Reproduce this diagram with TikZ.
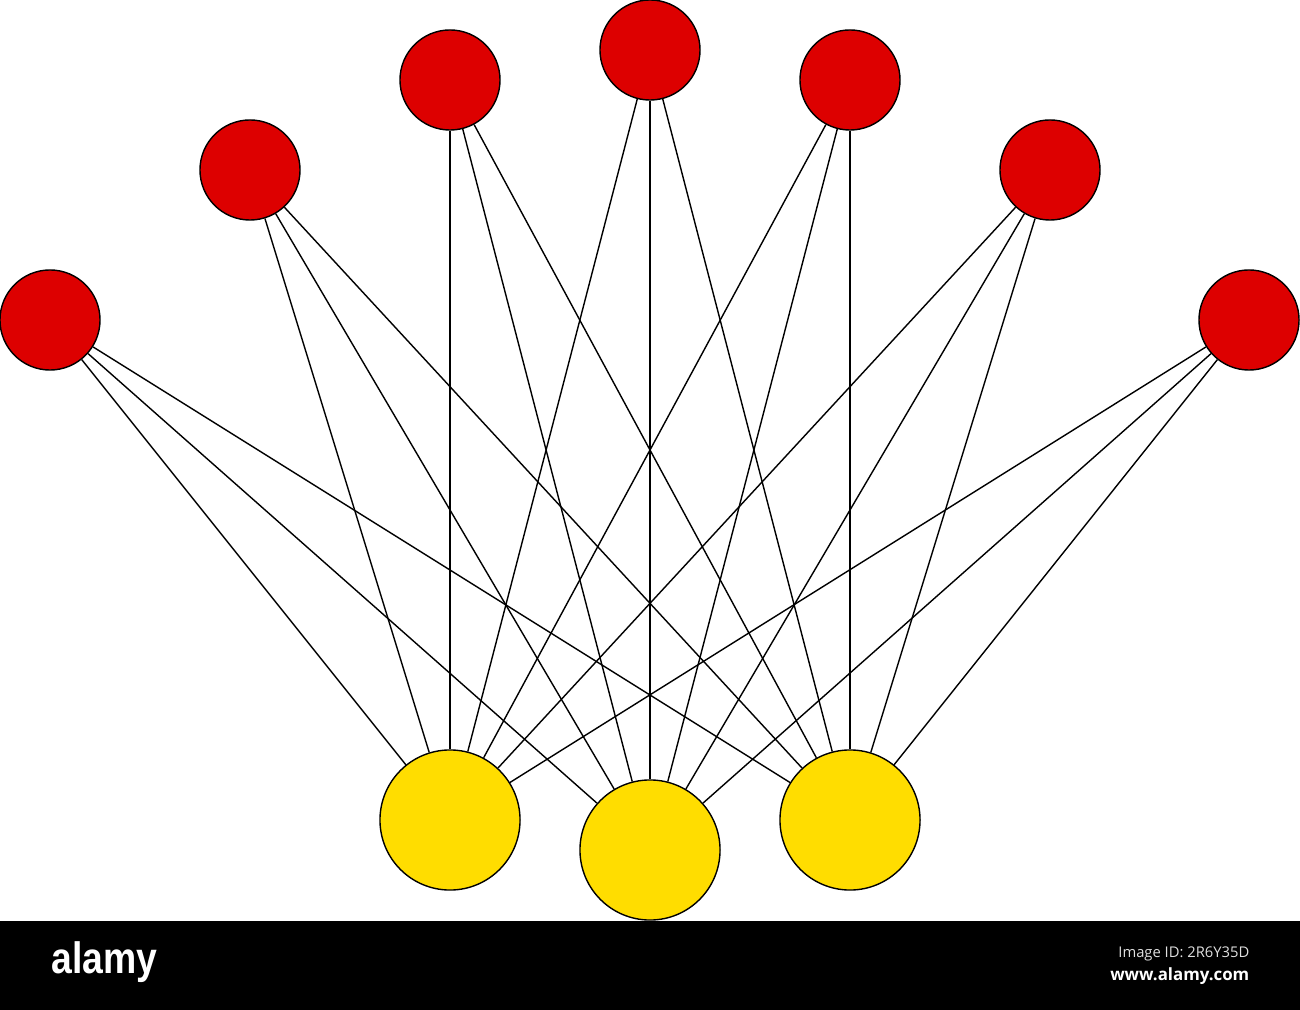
\documentclass[tikz,border=0pt]{standalone}
\usepackage{fontspec}
\setsansfont{Liberation Sans}
\newfontfamily\idfont{Open Sans}
\definecolor{nodered}{HTML}{DD0000}
\definecolor{nodeyellow}{HTML}{FFDD00}
\begin{document}
\begin{tikzpicture}[x=0.01cm,y=-0.01cm,
  rednode/.style={circle,draw=black,line width=0.4pt,fill=nodered,minimum size=1cm,inner sep=0pt},
  yellownode/.style={circle,draw=black,line width=0.4pt,fill=nodeyellow,minimum size=1.4cm,inner sep=0pt},
  edge/.style={draw=black,line width=0.4pt},
  bartext/.style={text=white,inner sep=0pt}]
\useasboundingbox (0,0) rectangle (1300,1010);
\fill[white] (0,0) rectangle (1300,921);
\fill[black] (0,921) rectangle (1300,1010);
\node[rednode] (r1) at (50,320) {};
\node[rednode] (r2) at (250,170) {};
\node[rednode] (r3) at (450,80) {};
\node[rednode] (r4) at (650,50) {};
\node[rednode] (r5) at (850,80) {};
\node[rednode] (r6) at (1050,170) {};
\node[rednode] (r7) at (1249,320) {};
\node[yellownode] (y1) at (450,820) {};
\node[yellownode] (y2) at (650,850) {};
\node[yellownode] (y3) at (850,820) {};
\foreach \r in {r1,r2,r3,r4,r5,r6,r7}{
  \foreach \y in {y1,y2,y3}{
    \path[edge] (\r) -- (\y);
  }
}
\node[bartext,anchor=base west,xscale=0.85,font=\sffamily\bfseries\fontsize{12.5}{12.5}\selectfont] (logo) at (51,973) {alamy};
\node[bartext,anchor=base east,text=white!88!black,font=\idfont\fontsize{4.2}{4.2}\selectfont] (imgid) at (1250,957) {Image ID: 2R6Y35D};
\node[bartext,anchor=base east,font=\idfont\bfseries\fontsize{4.8}{4.8}\selectfont] (web) at (1250,980) {www.alamy.com};
\end{tikzpicture}
\end{document}
